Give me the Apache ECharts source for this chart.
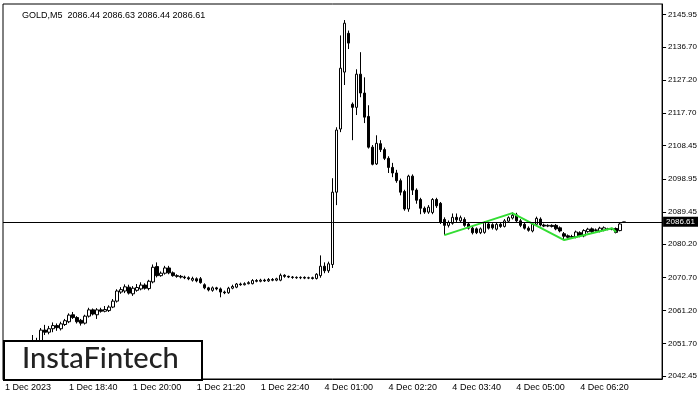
<!DOCTYPE html>
<html>
<head>
<meta charset="utf-8">
<title>GOLD,M5</title>
<script src="https://cdn.jsdelivr.net/npm/echarts@6/dist/echarts.min.js"></script>
<style>
  html, body { margin: 0; padding: 0; background: #fff; }
  #chart { width: 700px; height: 400px; }
</style>
</head>
<body>
<div id="chart"></div>
<script>
// bars are [open, close, low, high], M5
const fridayBars = [
  [2045.2, 2045.6, 2044.6, 2046.0], [2045.6, 2046.3, 2045.1, 2046.8], [2046.3, 2045.9, 2045.5, 2047.0],
  [2045.9, 2047.5, 2045.7, 2047.9], [2047.5, 2048.2, 2046.9, 2048.6], [2048.2, 2048.9, 2047.6, 2049.3],
  [2048.9, 2050.1, 2048.5, 2050.5], [2050.1, 2051.0, 2049.6, 2054.2], [2051.0, 2052.1, 2050.4, 2053.4],
  [2052.3, 2055.6, 2051.5, 2056.2], [2055.6, 2055.0, 2054.2, 2057.1], [2055.0, 2056.0, 2054.4, 2056.8],
  [2056.0, 2056.9, 2055.0, 2057.8], [2056.9, 2056.3, 2055.4, 2057.5], [2056.0, 2057.4, 2055.5, 2058.0],
  [2057.2, 2058.3, 2056.8, 2058.8], [2058.0, 2059.9, 2057.6, 2060.4], [2060.0, 2059.2, 2058.8, 2060.8],
  [2059.2, 2058.0, 2057.5, 2059.6], [2058.4, 2057.6, 2056.9, 2058.8], [2057.6, 2059.6, 2057.2, 2060.0],
  [2059.6, 2061.4, 2059.2, 2062.0], [2061.4, 2060.2, 2059.8, 2061.8], [2060.0, 2061.4, 2058.8, 2061.9],
  [2061.4, 2061.0, 2060.6, 2062.0], [2061.0, 2061.5, 2060.7, 2062.5], [2061.2, 2062.2, 2060.8, 2062.7],
  [2062.2, 2063.9, 2061.9, 2064.5], [2063.9, 2066.8, 2063.5, 2067.3], [2066.5, 2067.2, 2066.0, 2067.9],
  [2066.8, 2068.0, 2066.2, 2068.7], [2067.9, 2066.2, 2065.8, 2068.6], [2066.0, 2067.6, 2065.4, 2068.2],
  [2067.0, 2067.8, 2066.6, 2068.8], [2067.4, 2068.5, 2067.0, 2069.3], [2068.5, 2067.6, 2067.2, 2069.0],
  [2067.5, 2069.6, 2067.0, 2070.0], [2069.4, 2073.6, 2069.0, 2074.4], [2073.8, 2071.2, 2070.7, 2075.0],
  [2071.2, 2071.9, 2070.9, 2072.4], [2071.9, 2073.4, 2071.5, 2074.0], [2073.4, 2072.0, 2071.6, 2074.0],
  [2072.0, 2071.2, 2070.9, 2072.4], [2071.2, 2071.0, 2070.6, 2071.6], [2071.0, 2070.8, 2070.4, 2071.4],
  [2070.8, 2070.6, 2070.2, 2071.2], [2070.6, 2070.3, 2069.9, 2071.0], [2069.9, 2070.4, 2069.5, 2070.9],
  [2070.3, 2069.7, 2069.3, 2070.7], [2070.3, 2069.2, 2068.9, 2070.8], [2068.6, 2067.7, 2067.3, 2069.0],
  [2067.7, 2067.1, 2066.7, 2068.0], [2067.0, 2067.7, 2066.6, 2068.1], [2067.7, 2067.4, 2067.0, 2068.0],
  [2067.4, 2066.5, 2065.0, 2067.8], [2066.5, 2066.3, 2065.9, 2066.9], [2066.3, 2067.6, 2066.0, 2068.0],
  [2067.6, 2068.1, 2067.3, 2068.6], [2067.9, 2068.8, 2067.6, 2069.1], [2068.8, 2068.6, 2068.3, 2069.2],
  [2068.6, 2068.9, 2068.4, 2069.3], [2068.9, 2069.2, 2068.7, 2069.6], [2068.9, 2069.8, 2068.7, 2070.2],
  [2069.8, 2069.6, 2069.3, 2070.2], [2069.6, 2069.9, 2069.3, 2070.3], [2069.9, 2069.7, 2069.4, 2070.3],
  [2069.7, 2070.1, 2069.4, 2070.5], [2070.1, 2069.9, 2069.6, 2070.5], [2069.9, 2070.3, 2069.6, 2070.6],
  [2069.9, 2071.3, 2069.6, 2071.8], [2071.3, 2071.0, 2070.6, 2071.6], [2071.0, 2070.8, 2070.5, 2071.2],
  [2070.8, 2070.7, 2070.3, 2071.1], [2070.7, 2070.6, 2070.3, 2071.0], [2070.6, 2070.7, 2070.2, 2071.0],
  [2070.7, 2070.5, 2070.2, 2071.0], [2070.5, 2070.6, 2070.2, 2070.9], [2070.6, 2070.4, 2070.1, 2070.9],
  [2070.4, 2071.6, 2070.1, 2071.9], [2071.2, 2073.9, 2070.6, 2077.0]
];
const mondayBars = [
  [2073.9, 2072.6, 2071.9, 2075.0], [2072.6, 2074.6, 2072.0, 2075.2], [2074.4, 2095.1, 2073.4, 2099.1],
  [2095.1, 2112.9, 2091.4, 2113.7], [2113.2, 2130.6, 2112.3, 2140.0], [2129.5, 2143.5, 2125.8, 2144.4],
  [2140.6, 2137.8, 2136.1, 2141.4], [2120.3, 2119.4, 2110.0, 2120.8], [2119.4, 2128.9, 2117.2, 2130.3],
  [2128.9, 2123.5, 2122.3, 2135.2], [2123.5, 2116.6, 2114.9, 2128.0], [2116.8, 2108.0, 2107.6, 2120.0],
  [2108.0, 2103.1, 2102.8, 2108.6], [2103.2, 2109.1, 2102.9, 2111.4], [2109.0, 2107.3, 2106.6, 2110.0],
  [2107.3, 2104.8, 2104.3, 2107.9], [2104.8, 2102.2, 2100.6, 2105.4], [2102.2, 2100.6, 2099.4, 2103.5],
  [2100.6, 2098.4, 2097.8, 2101.5], [2098.4, 2095.1, 2094.2, 2099.0], [2095.3, 2090.3, 2089.8, 2095.8],
  [2090.3, 2099.7, 2089.5, 2100.1], [2099.7, 2095.7, 2094.3, 2100.2], [2095.7, 2092.8, 2091.8, 2096.2],
  [2093.0, 2090.5, 2088.8, 2093.5], [2090.5, 2089.4, 2088.9, 2091.0], [2089.4, 2090.8, 2088.9, 2091.4],
  [2089.3, 2093.0, 2088.8, 2093.4], [2093.0, 2091.2, 2090.6, 2093.5], [2091.9, 2086.5, 2086.0, 2092.3],
  [2087.3, 2085.6, 2082.8, 2087.9], [2085.6, 2086.4, 2085.0, 2087.0], [2086.2, 2087.9, 2085.8, 2089.0],
  [2087.9, 2087.2, 2086.5, 2089.0], [2086.9, 2087.8, 2086.4, 2088.4], [2087.3, 2085.6, 2085.2, 2087.9],
  [2086.0, 2084.8, 2084.4, 2086.4], [2084.8, 2083.5, 2083.0, 2085.3], [2084.6, 2083.5, 2083.1, 2085.0],
  [2083.5, 2084.6, 2083.1, 2085.0], [2083.6, 2086.4, 2083.2, 2086.8], [2086.0, 2084.8, 2084.4, 2086.6],
  [2085.8, 2084.9, 2084.4, 2086.2], [2084.5, 2085.9, 2084.1, 2086.3], [2085.9, 2085.3, 2084.9, 2086.3],
  [2085.3, 2086.9, 2085.0, 2087.4], [2086.8, 2087.8, 2086.5, 2088.2], [2087.7, 2088.5, 2087.3, 2089.3],
  [2088.6, 2086.9, 2086.5, 2089.2], [2086.9, 2085.6, 2085.1, 2087.4], [2085.9, 2084.8, 2084.4, 2086.3],
  [2084.8, 2084.2, 2083.8, 2085.3], [2084.0, 2085.9, 2083.6, 2086.3], [2085.9, 2087.6, 2085.5, 2088.1],
  [2087.4, 2085.7, 2085.3, 2087.9], [2085.7, 2085.4, 2085.1, 2086.1], [2085.4, 2085.6, 2085.1, 2085.9],
  [2085.6, 2085.3, 2085.0, 2085.9], [2085.6, 2084.6, 2084.2, 2086.0], [2084.9, 2084.0, 2083.6, 2085.3],
  [2083.2, 2082.5, 2081.6, 2083.7], [2082.6, 2082.2, 2081.8, 2083.0], [2082.4, 2082.2, 2081.9, 2082.9],
  [2082.3, 2083.7, 2081.9, 2084.1], [2083.5, 2082.6, 2082.2, 2083.9], [2082.6, 2084.1, 2082.2, 2084.5],
  [2083.8, 2084.5, 2083.5, 2084.9], [2084.6, 2083.8, 2083.4, 2085.0], [2084.1, 2084.3, 2083.8, 2084.7],
  [2083.9, 2084.8, 2083.6, 2085.2], [2084.2, 2084.9, 2083.9, 2085.3], [2084.6, 2084.5, 2084.2, 2084.9],
  [2084.5, 2084.6, 2084.2, 2084.9], [2084.7, 2083.6, 2083.3, 2085.0], [2084.1, 2086.0, 2083.9, 2086.5],
  [2086.44, 2086.61, 2086.44, 2086.63]
];

// price axis labels as printed by the terminal
const yTicks = [2042.45, 2051.70, 2061.20, 2070.70, 2080.20, 2089.45, 2098.95, 2108.45, 2117.70, 2127.20, 2136.70, 2145.95];

// green pattern line (bar index -> price)
const patternIdx = [110, 127, 140, 152, 153];
const patternVal = [2082.8, 2089.1, 2081.4, 2084.8, 2083.7];

const lastPrice = 2086.61;
const header = 'GOLD,M5  2086.44 2086.63 2086.44 2086.61';
const shiftBars = 9; // empty space right of the last bar

// time axis: Fri 1 Dec from 17:20, Mon 4 Dec from 01:00
const pad = n => (n < 10 ? '0' : '') + n;
const bars = fridayBars.concat(mondayBars);
const times = [];
for (let i = 0; i < bars.length + shiftBars; i++) {
  let day, mins;
  if (i < fridayBars.length) { day = 1; mins = 17 * 60 + 20 + i * 5; }
  else { day = 4; mins = 60 + (i - fridayBars.length) * 5; }
  times.push(i === 0 ? '1 Dec 2023' : day + ' Dec ' + pad(Math.floor(mins / 60)) + ':' + pad(mins % 60));
}

const pattern = times.map(() => null);
patternIdx.forEach((idx, k) => { pattern[idx] = patternVal[k]; });

const showTick = i => i % 16 === 0 && i < bars.length;

const chart = echarts.init(document.getElementById('chart'));
chart.setOption({
  animation: false,
  title: {
    text: header,
    left: 17, top: 6,
    textStyle: { fontFamily: 'Liberation Sans', fontSize: 9, fontWeight: 'normal', color: '#000' }
  },
  grid: {
    left: 3, right: 36, top: 4, bottom: 21,
    show: true, borderColor: '#000', borderWidth: 1, backgroundColor: '#fff'
  },
  xAxis: {
    type: 'category',
    data: times,
    boundaryGap: true,
    axisLine: { lineStyle: { color: '#000' } },
    axisTick: { alignWithLabel: true, interval: showTick, length: 4, lineStyle: { color: '#000' } },
    axisLabel: {
      interval: showTick, align: 'left', margin: 4,
      fontFamily: 'Liberation Sans', fontSize: 9, color: '#000'
    },
    splitLine: { show: false }
  },
  yAxis: {
    type: 'value',
    position: 'right',
    min: 2041.6, max: 2149.0,
    axisLine: { show: true, lineStyle: { color: '#000' } },
    axisTick: { show: true, customValues: yTicks, length: 4, lineStyle: { color: '#000' } },
    axisLabel: {
      customValues: yTicks, margin: 6,
      formatter: v => v.toFixed(2),
      fontFamily: 'Liberation Sans', fontSize: 8, color: '#000'
    },
    splitLine: { show: false }
  },
  series: [
    {
      type: 'candlestick',
      data: bars,
      barWidth: 3,
      itemStyle: { color: '#fff', color0: '#000', borderColor: '#000', borderColor0: '#000', borderWidth: 1 },
      markLine: {
        silent: true,
        symbol: 'none',
        lineStyle: { color: '#000', width: 1, type: 'solid' },
        label: {
          position: 'end', distance: 1,
          formatter: lastPrice.toFixed(2),
          backgroundColor: '#000', color: '#fff',
          fontFamily: 'Liberation Sans', fontSize: 8, padding: [1, 3]
        },
        data: [{ yAxis: lastPrice }]
      }
    },
    {
      type: 'line',
      data: pattern,
      connectNulls: true,
      showSymbol: false,
      symbol: 'none',
      lineStyle: { color: '#33dd33', width: 2 },
      z: 3
    }
  ],
  graphic: [
    {
      type: 'rect', left: 3, top: 340,
      shape: { width: 198, height: 39 },
      style: { fill: '#fff', stroke: '#000', lineWidth: 2 },
      z: 100
    },
    {
      type: 'text', left: 22, top: 344,
      style: { text: 'InstaFintech', font: '500 29px Lato', fill: '#222' },
      z: 101
    }
  ]
});
</script>
</body>
</html>
